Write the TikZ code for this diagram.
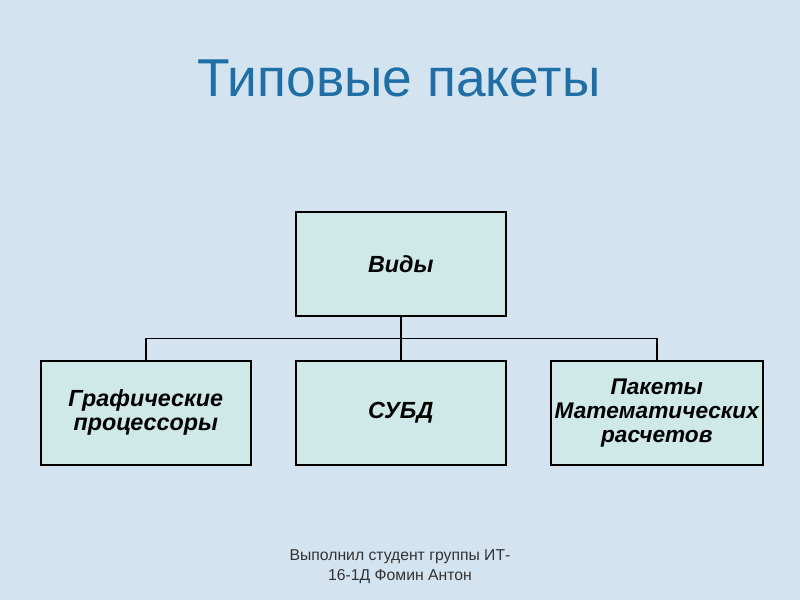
\documentclass[tikz,border=0pt]{standalone}
\usepackage{fontspec}
\setmainfont{Liberation Sans}
\begin{document}
\begin{tikzpicture}[x=0.75pt,y=-0.75pt,
  box/.style={draw=black,line width=1.2pt,fill=boxc,minimum width=157.5pt,minimum height=78pt,anchor=north west,align=center,font=\fontsize{17.5}{18}\selectfont\bfseries\itshape},
  conn/.style={draw=black,line width=1.2pt}]
\definecolor{bgc}{HTML}{D3E3F0}
\definecolor{boxc}{HTML}{CFE8E8}
\definecolor{titc}{HTML}{1F6FA6}
\fill[bgc] (0,0) rectangle (800,600);
\useasboundingbox (0,0) rectangle (800,600);
\node[text=titc,font=\fontsize{40}{44}\selectfont] (title) at (399,78) {Типовые пакеты};
\node[box] (v) at (295,211) {Виды};
\node[box] (g) at (40,360) {Графические\\процессоры};
\node[box] (s) at (295,360) {СУБД};
\node[box,minimum width=159pt,inner xsep=0pt,font=\fontsize{17}{18}\selectfont\bfseries\itshape] (p) at (550,360) {Пакеты\\Математических\\расчетов};
\path (v.south) ++(0,22) coordinate (j);
\draw[conn] (v.south) -- (j);
\draw[conn] (j) -- (s.north);
\draw[conn] (g.north) |- (j) -| (p.north);
\node[font=\fontsize{11.8}{15}\selectfont,text=black!80,align=center] (f) at (400,567) {Выполнил студент группы ИТ-\\16-1Д Фомин Антон};
\end{tikzpicture}
\end{document}
